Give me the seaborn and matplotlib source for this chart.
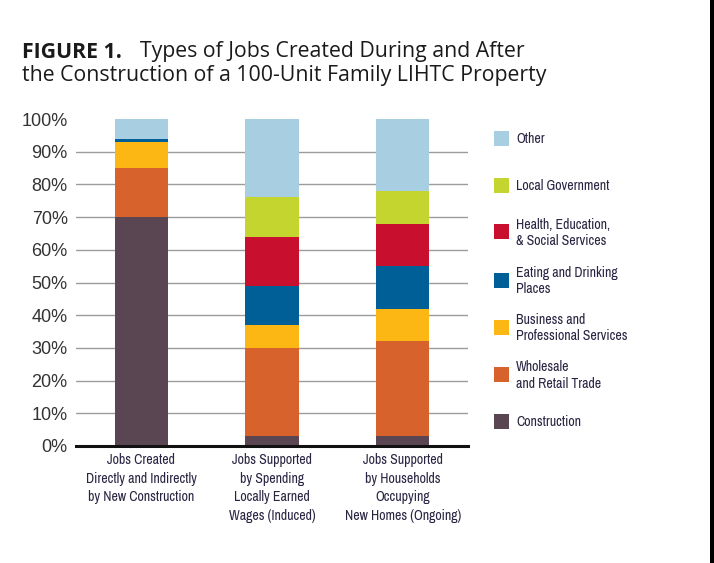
import matplotlib
matplotlib.use("Agg")
import matplotlib.pyplot as plt
from matplotlib.patches import Rectangle
from matplotlib import font_manager as fm
import seaborn as sns
import pandas as pd

# ---- data ----
categories = [
    "Jobs Created\nDirectly and Indirectly\nby New Construction",
    "Jobs Supported\nby Spending\nLocally Earned\nWages (Induced)",
    "Jobs Supported\nby Households\nOccupying\nNew Homes (Ongoing)",
]
sectors = [
    "Construction",
    "Wholesale\nand Retail Trade",
    "Business and\nProfessional Services",
    "Eating and Drinking\nPlaces",
    "Health, Education,\n& Social Services",
    "Local Government",
    "Other",
]
construction = [70, 3, 3]
wholesale = [15, 27, 29]
business = [8, 7, 10]
eating = [1, 12, 13]
health = [0, 15, 13]
local_gov = [0, 12, 10]
other = [6, 24, 22]
yticks = [0, 10, 20, 30, 40, 50, 60, 70, 80, 90, 100]
ytick_labels = ["0%", "10%", "20%", "30%", "40%", "50%", "60%", "70%", "80%", "90%", "100%"]

colors = ["#5a4652", "#d8622c", "#fdb714", "#005f96", "#c8102e", "#c4d52f", "#a7cfe1"]

series = [construction, wholesale, business, eating, health, local_gov, other]
df = pd.DataFrame({"category": categories})
for name, vals in zip(sectors, series):
    df[name] = vals
cum = df[sectors].cumsum(axis=1)

sns.set_style("white")
plt.rcParams["font.family"] = ["Liberation Sans", "DejaVu Sans"]

# look for an installed condensed face
cond_family = None
cond_stretch = "normal"
for f in fm.fontManager.ttflist:
    if "Narrow" in f.name or "Condensed" in f.name:
        cond_family = f.name
        break
if cond_family is None:
    for f in fm.fontManager.ttflist:
        st = f.stretch
        if (isinstance(st, str) and "condensed" in st) or (isinstance(st, int) and st < 500):
            cond_family = f.name
            cond_stretch = st
            break
if cond_family is None:
    cond_family = "Liberation Sans"
    small = 9.2
else:
    small = 10.0
cfam = [cond_family, "DejaVu Sans"]

W, H = 714, 563
fig = plt.figure(figsize=(W / 100, H / 100), dpi=100)
fig.patch.set_facecolor("white")
ax = fig.add_axes([76 / W, 1 - 446 / H, (468 - 76) / W, (446 - 119) / H])

# stacked bars: draw cumulative tops from the highest layer down
for name, col in reversed(list(zip(sectors, colors))):
    sns.barplot(data=pd.DataFrame({"category": categories, "v": cum[name]}),
                x="category", y="v", color=col, width=0.41, linewidth=0,
                saturation=1, ax=ax, zorder=2)

ax.set_xlim(-0.5, 2.5)
ax.set_ylim(0, 100)
ax.set_yticks(yticks)
ax.set_yticklabels(ytick_labels)
ax.set_xlabel("")
ax.set_ylabel("")
ax.yaxis.grid(True, color="#9c9c9c", linewidth=1, zorder=0)
ax.set_axisbelow(True)
ax.get_ygridlines()[-1].set_visible(False)
ax.get_ygridlines()[0].set_visible(False)
for s in ["top", "right", "left"]:
    ax.spines[s].set_visible(False)
ax.spines["bottom"].set_color("#111111")
ax.spines["bottom"].set_linewidth(2.2)
ax.spines["bottom"].set_zorder(3)
ax.tick_params(axis="y", length=0, pad=6, labelsize=13, labelcolor="#333333")
ax.tick_params(axis="x", length=0, pad=5)
for t in ax.get_xticklabels():
    t.set_family(cfam)
    t.set_stretch(cond_stretch)
    t.set_fontsize(small)
    t.set_color("#2a2442")
    t.set_linespacing(1.6 if small < 10 else 1.42)
    t.set_verticalalignment("top")

# legend (manual, top = Other)
leg_centers = [421, 374.5, 327, 280, 232, 185.5, 138.5]
for name, col, cy in zip(sectors, colors, leg_centers):
    fig.add_artist(Rectangle((494 / W, 1 - (cy + 7.5) / H), 15 / W, 15 / H,
                             transform=fig.transFigure, facecolor=col,
                             edgecolor="none"))
    fig.text(516 / W, 1 - (cy + 1) / H, name, ha="left", va="center",
             fontsize=small, color="#2a2442",
             linespacing=1.35 if small < 10 else 1.2,
             family=cfam, stretch=cond_stretch)

# title
tfam = ["Open Sans", "DejaVu Sans"]
tsize = 15.35
t1 = fig.text(22 / W, 1 - 57.5 / H, "FIGURE 1.", fontsize=tsize, fontweight="bold",
              family=tfam, color="#1a1a1a", va="baseline", ha="left")
fig.canvas.draw()
bb = t1.get_window_extent()
fig.text((bb.x1 + 18) / W, 1 - 57.5 / H, "Types of Jobs Created During and After",
         fontsize=tsize, family=tfam, color="#1a1a1a", va="baseline", ha="left")
fig.text(22 / W, 1 - 80.5 / H, "the Construction of a 100-Unit Family LIHTC Property",
         fontsize=tsize, family=tfam, color="#1a1a1a", va="baseline", ha="left")

# right black frame edge
fig.add_artist(Rectangle((710 / W, 0), 4 / W, 1, transform=fig.transFigure,
                         facecolor="black", edgecolor="none"))

fig.savefig("out.png", dpi=100)
